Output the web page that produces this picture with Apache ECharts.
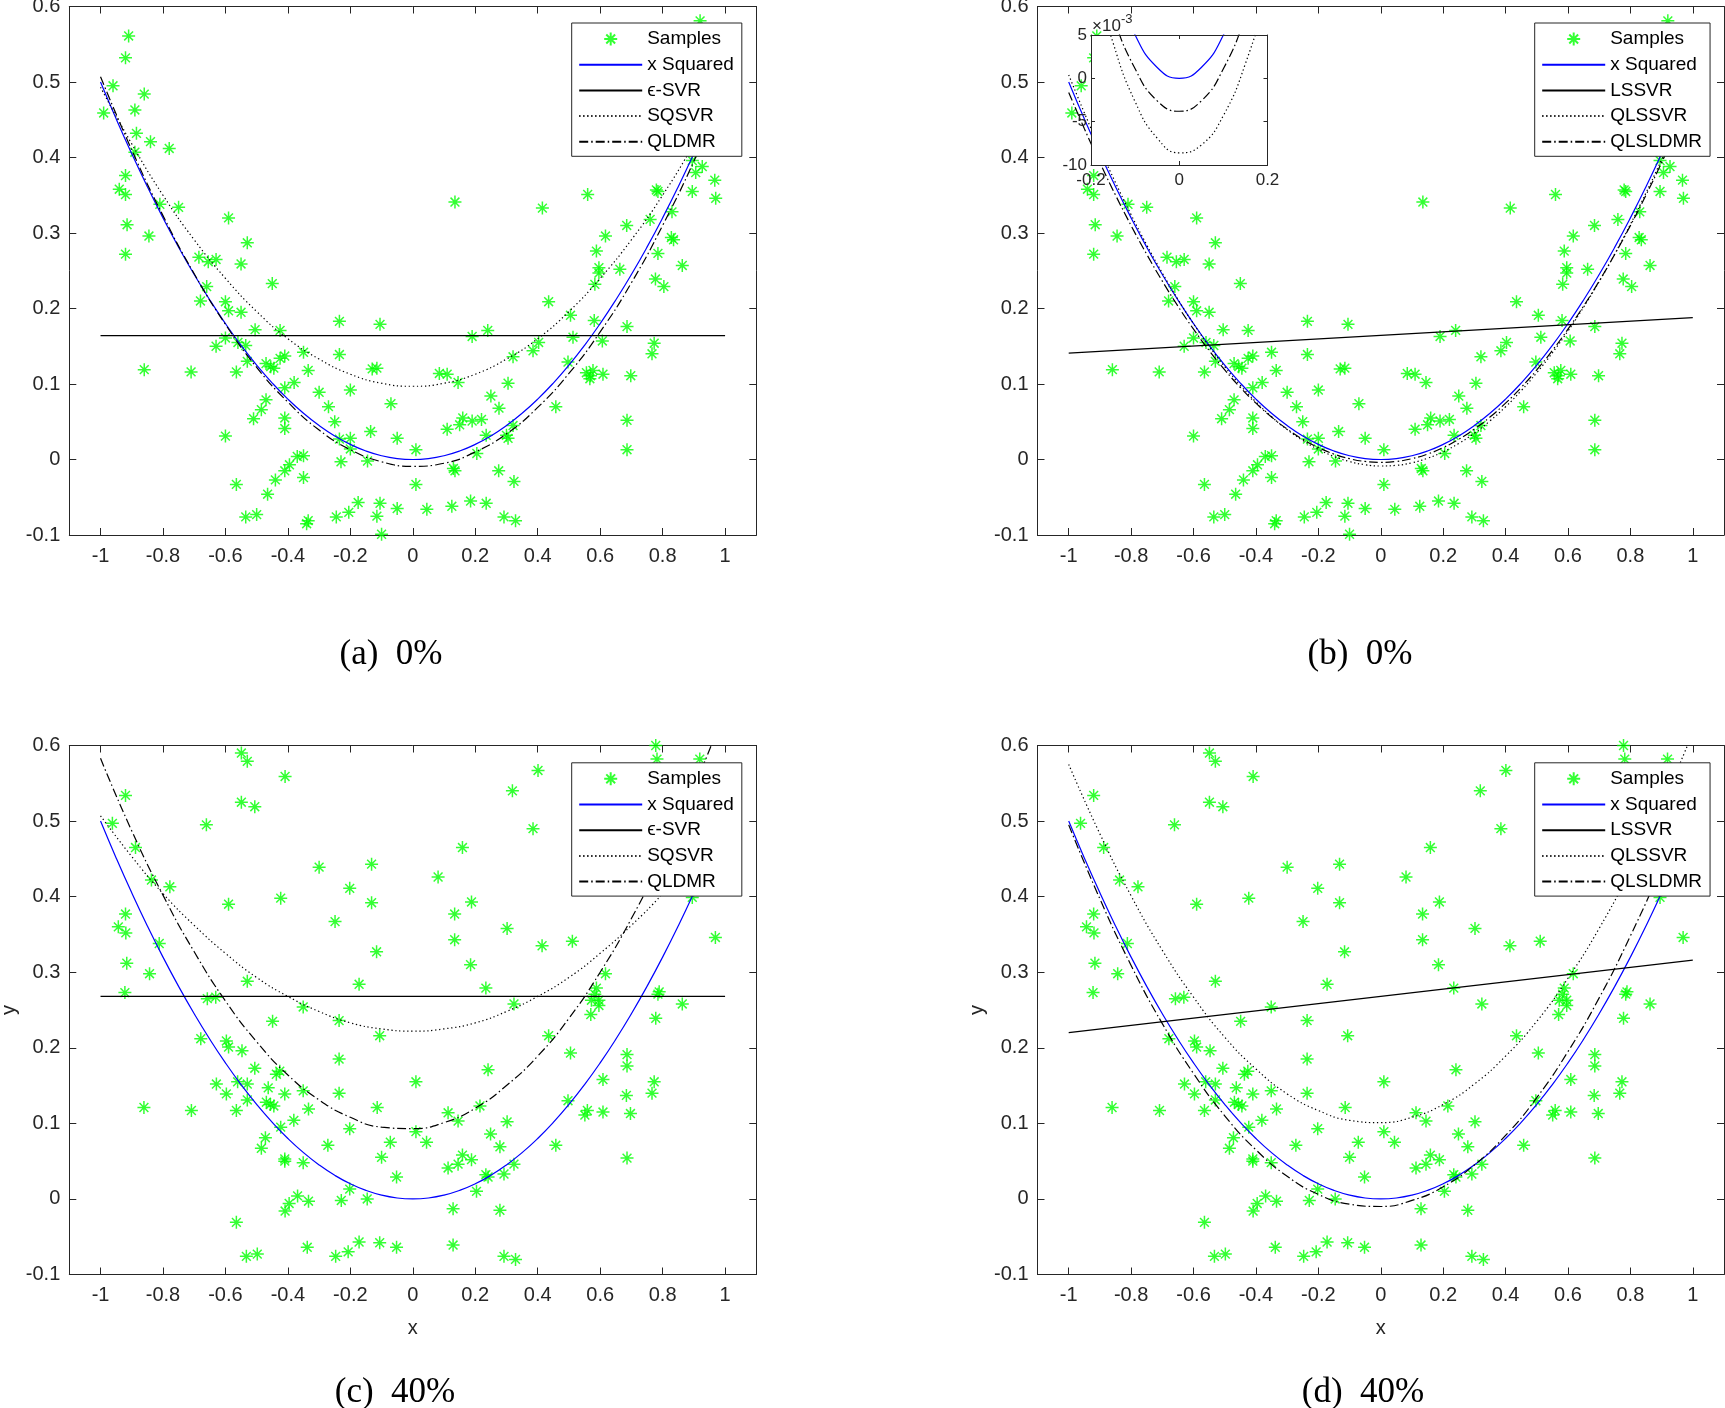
<!DOCTYPE html>
<html>
<head>
<meta charset="utf-8">
<title>x squared regression</title>
<script src="https://cdn.jsdelivr.net/npm/echarts@6/dist/echarts.min.js"></script>
<style>
  html, body { margin: 0; padding: 0; background: #fff; }
  #main { width: 1725px; height: 1408px; }
</style>
</head>
<body>
<div id="main"></div>
<script>
// tick values
var xTicks = [-1, -0.8, -0.6, -0.4, -0.2, 0, 0.2, 0.4, 0.6, 0.8, 1];
var yTicks = [-0.1, 0, 0.1, 0.2, 0.3, 0.4, 0.5, 0.6];
var insetXTicks = [-0.2, 0, 0.2];
var insetYTicks = [-0.01, -0.005, 0, 0.005];

// x grids of the fitted curves
var lineX = [-1, 1];
var curveX = [-1, -0.9, -0.8, -0.7, -0.6, -0.5, -0.4, -0.3, -0.2, -0.1, 0, 0.1, 0.2, 0.3, 0.4, 0.5, 0.6, 0.7, 0.8, 0.9, 1];
var fineX = [-1, -0.95, -0.9, -0.85, -0.8, -0.75, -0.7, -0.65, -0.6, -0.55, -0.5, -0.45, -0.4, -0.35, -0.3, -0.25, -0.2, -0.15, -0.1, -0.05,
  0, 0.05, 0.1, 0.15, 0.2, 0.25, 0.3, 0.35, 0.4, 0.45, 0.5, 0.55, 0.6, 0.65, 0.7, 0.75, 0.8, 0.85, 0.9, 0.95, 1];

// true curve (on fineX)
var xSquared = [0.5, 0.45125, 0.405, 0.36125, 0.32, 0.28125, 0.245, 0.21125, 0.18, 0.15125, 0.125, 0.10125, 0.08, 0.06125, 0.045, 0.03125, 0.02, 0.01125, 0.005, 0.00125,
  0, 0.00125, 0.005, 0.01125, 0.02, 0.03125, 0.045, 0.06125, 0.08, 0.10125, 0.125, 0.15125, 0.18, 0.21125, 0.245, 0.28125, 0.32, 0.36125, 0.405, 0.45125, 0.5];

// (a) 0%
var svrA = [0.164, 0.164];
var sqsvrA = [0.493, 0.418, 0.350, 0.291, 0.240, 0.196, 0.160, 0.133, 0.113, 0.101, 0.097, 0.101, 0.113, 0.133, 0.160, 0.196, 0.240, 0.291, 0.350, 0.418, 0.493];
var qldmrA = [0.507, 0.410, 0.323, 0.246, 0.179, 0.122, 0.076, 0.039, 0.013, -0.003, -0.009, -0.005, 0.010, 0.034, 0.069, 0.114, 0.169, 0.234, 0.310, 0.395, 0.491];

// (b) 0%  (QLSSVR / QLSLDMR on fineX)
var lssvrB = [0.141, 0.188];
var qlssvrB = [0.5094, 0.4593, 0.4117, 0.3667, 0.3242, 0.2843, 0.2469, 0.2121, 0.1798, 0.1501, 0.1229, 0.0983, 0.0762, 0.0567, 0.0397, 0.0253, 0.0134, 0.0041, -0.0027, -0.0069,
  -0.0086, -0.0077, -0.0043, 0.0017, 0.0102, 0.0213, 0.0349, 0.0511, 0.0698, 0.0911, 0.1149, 0.1413, 0.1702, 0.2017, 0.2357, 0.2723, 0.3114, 0.3531, 0.3973, 0.4441, 0.4934];
var qlsldmrB = [0.4862, 0.4384, 0.3931, 0.3502, 0.3098, 0.2718, 0.2363, 0.2032, 0.1726, 0.1444, 0.1187, 0.0954, 0.0746, 0.0562, 0.0403, 0.0268, 0.0158, 0.0072, 0.0011, -0.0026,
  -0.0038, -0.0026, 0.0011, 0.0072, 0.0158, 0.0268, 0.0403, 0.0562, 0.0746, 0.0954, 0.1187, 0.1444, 0.1726, 0.2032, 0.2363, 0.2718, 0.3098, 0.3502, 0.3931, 0.4384, 0.4862];

// (c) 40%
var svrC = [0.268, 0.268];
var sqsvrC = [0.507, 0.453, 0.404, 0.362, 0.325, 0.293, 0.268, 0.248, 0.233, 0.225, 0.222, 0.225, 0.233, 0.248, 0.268, 0.293, 0.325, 0.362, 0.404, 0.453, 0.507];
var qldmrC = [0.583, 0.487, 0.402, 0.327, 0.262, 0.208, 0.164, 0.131, 0.108, 0.095, 0.093, 0.101, 0.120, 0.150, 0.189, 0.239, 0.300, 0.371, 0.453, 0.544, 0.647];

// (d) 40%
var lssvrD = [0.220, 0.316];
var qlssvrD = [0.575, 0.483, 0.401, 0.329, 0.267, 0.214, 0.172, 0.139, 0.117, 0.104, 0.101, 0.108, 0.125, 0.152, 0.189, 0.235, 0.292, 0.358, 0.435, 0.521, 0.617];
var qlsldmrD = [0.495, 0.397, 0.309, 0.232, 0.166, 0.110, 0.065, 0.030, 0.006, -0.007, -0.010, -0.002, 0.016, 0.045, 0.084, 0.134, 0.195, 0.266, 0.348, 0.440, 0.543];

// samples, 0% outliers (a, b)
var samples0 = [
  [-0.91,0.561],[-0.92,0.532],[-0.96,0.495],[-0.99,0.459],[-0.86,0.484],[-0.89,0.463],[-0.885,0.432],[-0.84,0.421],[-0.78,0.412],[-0.89,0.407],
  [-0.92,0.376],[-0.94,0.358],[-0.92,0.351],[-0.81,0.338],[-0.75,0.334],[-0.915,0.311],[-0.845,0.296],[-0.92,0.272],[-0.59,0.320],[-0.53,0.287],
  [-0.685,0.268],[-0.655,0.262],[-0.63,0.265],[-0.55,0.259],[-0.45,0.233],[-0.66,0.229],[-0.68,0.210],[-0.60,0.209],[-0.59,0.197],[-0.55,0.195],
  [-0.505,0.172],[-0.425,0.171],[-0.235,0.183],[-0.105,0.179],[-0.60,0.161],[-0.56,0.155],[-0.535,0.151],[-0.63,0.150],[-0.35,0.142],[-0.235,0.139],
  [-0.41,0.137],[-0.425,0.134],[-0.53,0.130],[-0.47,0.127],[-0.455,0.123],[-0.445,0.121],[-0.86,0.119],[-0.335,0.118],[-0.13,0.120],[-0.115,0.121],
  [-0.71,0.116],[-0.565,0.116],[-0.38,0.102],[-0.41,0.095],[-0.30,0.089],[-0.20,0.092],[-0.27,0.070],[-0.47,0.079],[-0.485,0.066],[-0.07,0.074],
  [-0.51,0.054],[-0.41,0.055],[-0.25,0.050],[-0.41,0.041],[-0.135,0.037],[-0.60,0.031],[-0.20,0.028],[-0.05,0.028],[-0.235,0.027],[-0.20,0.014],
  [0.01,0.013],[0.205,0.008],[-0.37,0.004],[-0.35,0.005],[-0.23,-0.003],[-0.145,-0.002],[-0.395,-0.007],[-0.41,-0.015],[-0.35,-0.024],[-0.44,-0.027],
  [0.01,-0.033],[-0.565,-0.033],[-0.465,-0.046],[-0.175,-0.057],[-0.205,-0.070],[-0.105,-0.058],[-0.05,-0.065],[0.045,-0.066],[-0.115,-0.075],[-0.245,-0.076],
  [-0.535,-0.076],[-0.50,-0.073],[-0.335,-0.081],[-0.34,-0.085],[-0.10,-0.099],[0.125,-0.062],[0.185,-0.055],[0.235,-0.058],[0.135,0.341],[0.19,0.163],
  [0.24,0.171],[0.085,0.114],[0.11,0.113],[0.145,0.102],[0.25,0.084],[0.11,0.040],[0.16,0.055],[0.15,0.046],[0.19,0.051],[0.22,0.053],
  [0.235,0.032],[0.13,-0.012],[0.135,-0.015],[0.275,-0.015],[0.92,0.581],[0.895,0.396],[0.927,0.388],[0.906,0.380],[0.967,0.370],[0.895,0.355],
  [0.97,0.346],[0.56,0.351],[0.415,0.333],[0.78,0.357],[0.785,0.355],[0.83,0.328],[0.76,0.318],[0.685,0.310],[0.617,0.296],[0.828,0.294],
  [0.835,0.291],[0.588,0.276],[0.785,0.273],[0.596,0.254],[0.596,0.247],[0.663,0.252],[0.863,0.257],[0.583,0.232],[0.777,0.239],[0.804,0.229],
  [0.435,0.209],[0.505,0.191],[0.581,0.184],[0.686,0.176],[0.513,0.162],[0.607,0.157],[0.403,0.155],[0.773,0.154],[0.385,0.144],[0.766,0.140],
  [0.321,0.136],[0.497,0.129],[0.556,0.115],[0.569,0.111],[0.577,0.118],[0.567,0.107],[0.609,0.113],[0.698,0.111],[0.305,0.101],[0.276,0.068],
  [0.458,0.070],[0.686,0.052],[0.686,0.013],[0.321,0.045],[0.300,0.032],[0.305,0.028],[0.324,-0.029],[0.292,-0.076],[0.329,-0.081]
];

// samples, 40% outliers (c, d)
var samples40 = [
  [-0.549,0.590],[-0.530,0.579],[-0.409,0.559],[-0.920,0.534],[-0.549,0.525],[-0.506,0.519],[-0.962,0.497],[-0.661,0.495],[-0.888,0.465],[-0.300,0.439],
  [-0.132,0.443],[-0.837,0.422],[-0.778,0.413],[-0.202,0.411],[-0.423,0.398],[-0.132,0.392],[-0.590,0.390],[-0.920,0.377],[-0.249,0.367],[-0.943,0.360],
  [-0.919,0.352],[-0.812,0.338],[-0.116,0.327],[-0.916,0.312],[-0.843,0.298],[-0.530,0.288],[-0.172,0.284],[-0.922,0.273],[-0.658,0.265],[-0.631,0.267],
  [-0.351,0.254],[-0.449,0.235],[-0.236,0.236],[-0.106,0.216],[-0.679,0.212],[-0.597,0.209],[-0.590,0.201],[-0.547,0.196],[-0.236,0.185],[-0.506,0.173],
  [-0.426,0.169],[-0.437,0.165],[0.010,0.155],[-0.629,0.152],[-0.561,0.155],[-0.530,0.152],[-0.463,0.147],[-0.351,0.143],[-0.236,0.140],[-0.410,0.139],
  [-0.597,0.139],[-0.530,0.131],[-0.469,0.128],[-0.456,0.125],[-0.445,0.123],[-0.861,0.121],[-0.334,0.119],[-0.114,0.121],[-0.709,0.117],[-0.565,0.117],
  [0.113,0.114],[-0.381,0.104],[-0.423,0.095],[-0.202,0.093],[0.010,0.089],[-0.472,0.081],[-0.072,0.075],[0.044,0.075],[-0.272,0.071],[-0.485,0.067],
  [-0.100,0.055],[-0.410,0.053],[-0.410,0.050],[-0.351,0.048],[-0.052,0.029],[0.113,0.041],[-0.202,0.013],[-0.369,0.004],[-0.229,-0.002],[-0.146,0.000],
  [-0.334,-0.003],[-0.396,-0.006],[-0.409,-0.016],[-0.565,-0.031],[-0.172,-0.057],[-0.106,-0.058],[-0.338,-0.064],[-0.052,-0.064],[-0.207,-0.070],[-0.498,-0.073],
  [-0.533,-0.076],[-0.247,-0.076],[0.081,0.426],[0.778,0.600],[0.782,0.582],[0.919,0.582],[0.401,0.567],[0.319,0.540],[0.385,0.490],[0.159,0.465],
  [0.188,0.393],[0.134,0.377],[0.134,0.343],[0.302,0.358],[0.414,0.335],[0.511,0.341],[0.969,0.346],[0.895,0.399],[0.185,0.310],[0.234,0.279],
  [0.617,0.298],[0.588,0.279],[0.583,0.271],[0.596,0.263],[0.596,0.256],[0.572,0.263],[0.570,0.244],[0.324,0.258],[0.789,0.274],[0.785,0.271],
  [0.863,0.258],[0.778,0.239],[0.435,0.216],[0.505,0.193],[0.686,0.191],[0.686,0.176],[0.241,0.171],[0.609,0.158],[0.773,0.155],[0.766,0.140],
  [0.684,0.137],[0.215,0.123],[0.145,0.103],[0.302,0.102],[0.497,0.130],[0.559,0.117],[0.551,0.111],[0.609,0.115],[0.697,0.113],[0.249,0.086],
  [0.279,0.069],[0.458,0.071],[0.686,0.054],[0.159,0.058],[0.145,0.046],[0.188,0.052],[0.234,0.032],[0.241,0.029],[0.292,0.033],[0.324,0.046],
  [0.204,0.010],[0.129,-0.013],[0.279,-0.015],[0.129,-0.061],[0.292,-0.076],[0.329,-0.080]
];

function zip(xs, ys) {
  var out = [];
  for (var i = 0; i < xs.length; i++) out.push([xs[i], ys[i]]);
  return out;
}

var FONT = 'Liberation Sans';
var AX = '#262626';
var STAR = 'path://M5,0L5,10M0,5L10,5M1.6,1.6L8.4,8.4M1.6,8.4L8.4,1.6';
var DOT = [1.3, 2.7];
var DASHDOT = [9, 3, 1.5, 3];

// plot boxes, in pixels
var panels = [
  { box: [69.3, 6.5, 687, 528.5], legend: [571.7, 23], samples: samples0,
    names: ['\u03f5-SVR', 'SQSVR', 'QLDMR'], solid: zip(lineX, svrA), dotted: zip(curveX, sqsvrA), dashed: zip(curveX, qldmrA),
    caption: '(a)  0%', cap: [391, 655], names2: false },
  { box: [1037.5, 6.5, 686.5, 528.5], legend: [1534.7, 23], samples: samples0,
    names: ['LSSVR', 'QLSSVR', 'QLSLDMR'], solid: zip(lineX, lssvrB), dotted: zip(fineX, qlssvrB), dashed: zip(fineX, qlsldmrB),
    caption: '(b)  0%', cap: [1360, 655], names2: false },
  { box: [69.3, 745.5, 687, 529], legend: [571.7, 762.8], samples: samples40,
    names: ['\u03f5-SVR', 'SQSVR', 'QLDMR'], solid: zip(lineX, svrC), dotted: zip(curveX, sqsvrC), dashed: zip(curveX, qldmrC),
    caption: '(c)  40%', cap: [395, 1393], names2: true },
  { box: [1037.5, 745.5, 686.5, 529], legend: [1534.7, 762.8], samples: samples40,
    names: ['LSSVR', 'QLSSVR', 'QLSLDMR'], solid: zip(lineX, lssvrD), dotted: zip(curveX, qlssvrD), dashed: zip(curveX, qlsldmrD),
    caption: '(d)  40%', cap: [1363, 1393], names2: true }
];
var insetBox = [1091, 35, 176.5, 130];

var grids = [], xAxes = [], yAxes = [], series = [], legends = [], texts = [];

function axisPair(gi, isX, min, max, ticks, labelOn, opts) {
  var base = {
    type: 'value', gridIndex: gi, min: min, max: max,
    axisLine: { show: true, onZero: false, lineStyle: { color: AX, width: 1 } },
    axisTick: { show: true, inside: true, length: opts.tick, customValues: ticks, lineStyle: { color: AX, width: 1 } },
    splitLine: { show: false },
    z: opts.z || 0
  };
  var a = echarts.util.clone(base), b = echarts.util.clone(base);
  a.position = isX ? 'bottom' : 'left';
  b.position = isX ? 'top' : 'right';
  a.axisLabel = { show: labelOn, customValues: ticks, margin: opts.margin, fontSize: opts.font, fontFamily: FONT, color: AX,
                  formatter: opts.fmt };
  b.axisLabel = { show: false };
  return [a, b];
}

// legend entry for a line: hide the default marker dot
function lineEntry(name) {
  return { name: name, itemStyle: { opacity: 0 } };
}

panels.forEach(function (p, i) {
  grids.push({ left: p.box[0], top: p.box[1], width: p.box[2], height: p.box[3], outerBoundsMode: 'none', containLabel: false });
  var xs = axisPair(i, true, -1.1, 1.1, xTicks, true, { tick: 7, margin: 11, font: 20 });
  var ys = axisPair(i, false, -0.1, 0.6, yTicks, true, { tick: 7, margin: 9, font: 20 });
  if (p.names2) {
    xs[0].name = 'x'; xs[0].nameLocation = 'middle'; xs[0].nameGap = 44;
    xs[0].nameTextStyle = { fontSize: 20, fontFamily: FONT, color: AX };
    ys[0].name = 'y'; ys[0].nameLocation = 'middle'; ys[0].nameGap = 50;
    ys[0].nameTextStyle = { fontSize: 20, fontFamily: FONT, color: AX };
  }
  xAxes.push(xs[0], xs[1]);
  yAxes.push(ys[0], ys[1]);

  var xi = 2 * i, yi = 2 * i;
  series.push({
    name: 'Samples', type: 'scatter', xAxisIndex: xi, yAxisIndex: yi, data: p.samples,
    symbol: STAR, symbolSize: 13,
    itemStyle: { color: '#00ff00', borderColor: '#00ff00', borderWidth: 1.5 }
  });
  series.push({ name: 'x Squared', type: 'line', xAxisIndex: xi, yAxisIndex: yi, data: zip(fineX, xSquared),
    smooth: true, symbol: 'none', lineStyle: { color: '#0000ff', width: 1.2 } });
  series.push({ name: p.names[0], type: 'line', xAxisIndex: xi, yAxisIndex: yi, data: p.solid,
    symbol: 'none', lineStyle: { color: '#000', width: 1.2 } });
  series.push({ name: p.names[1], type: 'line', xAxisIndex: xi, yAxisIndex: yi, data: p.dotted,
    smooth: true, symbol: 'none', lineStyle: { color: '#000', width: 1.2, type: DOT } });
  series.push({ name: p.names[2], type: 'line', xAxisIndex: xi, yAxisIndex: yi, data: p.dashed,
    smooth: true, symbol: 'none', lineStyle: { color: '#000', width: 1.2, type: DASHDOT } });

  legends.push({
    orient: 'vertical', left: p.legend[0], top: p.legend[1],
    itemWidth: 63, itemHeight: 13, itemGap: 6.7, padding: [6.5, 8, 5, 6.5],
    backgroundColor: '#fff', borderColor: AX, borderWidth: 1, borderRadius: 0,
    selectedMode: false,
    textStyle: { fontSize: 19, fontFamily: FONT, color: '#000', lineHeight: 19 },
    data: ['Samples', lineEntry('x Squared'), lineEntry(p.names[0]), lineEntry(p.names[1]), lineEntry(p.names[2])]
  });

  texts.push({
    type: 'text', x: p.cap[0], y: p.cap[1], silent: true,
    style: { text: p.caption, fontSize: 35, fontFamily: 'Liberation Serif', fill: '#000', align: 'center', verticalAlign: 'middle' }
  });
});

// inset of panel (b)
grids.push({ left: insetBox[0], top: insetBox[1], width: insetBox[2], height: insetBox[3], outerBoundsMode: 'none', containLabel: false });
var ixs = axisPair(4, true, -0.2, 0.2, insetXTicks, true, { tick: 4, margin: 7, font: 17, z: 7 });
var iys = axisPair(4, false, -0.01, 0.005, insetYTicks, true, { tick: 4, margin: 4, font: 17, z: 7,
  fmt: function (v) { return String(Math.round(v * 1000)); } });
xAxes.push(ixs[0], ixs[1]);
yAxes.push(iys[0], iys[1]);
series.push({ name: 'x Squared', type: 'line', xAxisIndex: 8, yAxisIndex: 8, data: zip(fineX, xSquared), z: 6,
  smooth: true, symbol: 'none', lineStyle: { color: '#0000ff', width: 1.2 } });
series.push({ name: 'QLSSVR', type: 'line', xAxisIndex: 8, yAxisIndex: 8, data: zip(fineX, qlssvrB), z: 6,
  smooth: true, symbol: 'none', lineStyle: { color: '#000', width: 1.2, type: DOT } });
series.push({ name: 'QLSLDMR', type: 'line', xAxisIndex: 8, yAxisIndex: 8, data: zip(fineX, qlsldmrB), z: 6,
  smooth: true, symbol: 'none', lineStyle: { color: '#000', width: 1.2, type: DASHDOT } });

// white sheet under the inset, and its exponent label
texts.push({ type: 'rect', z: 5, silent: true,
  shape: { x: insetBox[0], y: insetBox[1], width: insetBox[2], height: insetBox[3] }, style: { fill: '#fff' } });
texts.push({ type: 'text', z: 7, x: 1092, y: 26.5, silent: true,
  style: { text: '\u00d710', fontSize: 17, fontFamily: FONT, fill: AX, align: 'left', verticalAlign: 'middle' } });
texts.push({ type: 'text', z: 7, x: 1121, y: 19, silent: true,
  style: { text: '-3', fontSize: 13, fontFamily: FONT, fill: AX, align: 'left', verticalAlign: 'middle' } });

var chart = echarts.init(document.getElementById('main'));
chart.setOption({
  animation: false,
  backgroundColor: '#fff',
  grid: grids,
  xAxis: xAxes,
  yAxis: yAxes,
  legend: legends,
  series: series,
  graphic: { elements: texts }
});
</script>
</body>
</html>
